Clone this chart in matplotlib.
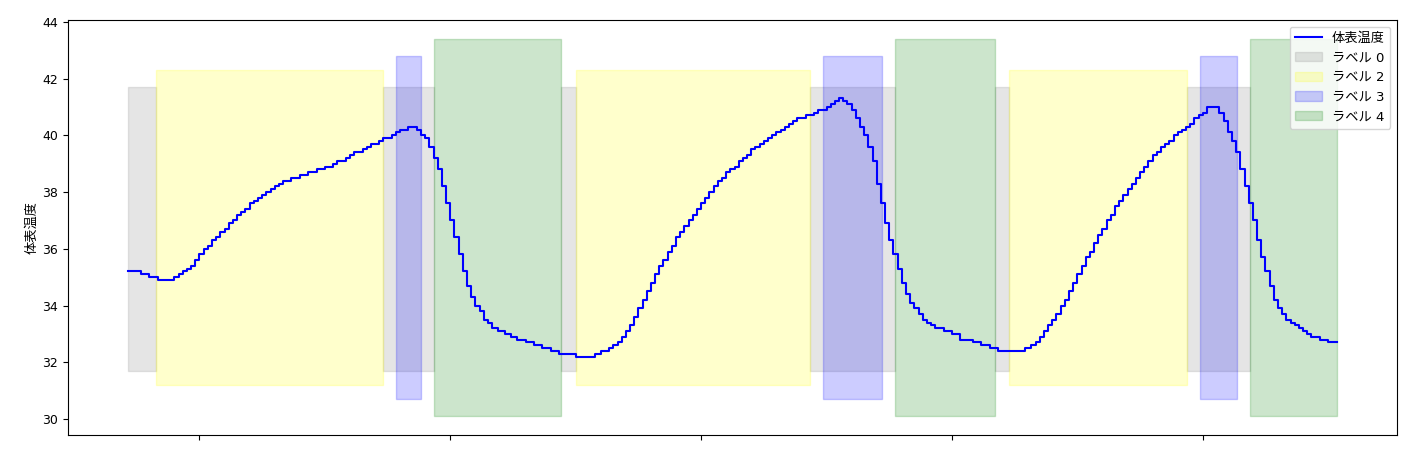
import matplotlib
matplotlib.use("Agg")
import matplotlib.pyplot as plt
from matplotlib.ticker import MultipleLocator, NullFormatter

plt.rcParams['font.family'] = ['DejaVu Sans', 'Noto Sans CJK JP']

# time (minutes) and body surface temperature
t = [43, 46, 48, 50, 54, 55, 56, 57, 58, 59, 60, 61, 62, 63, 64, 65, 66, 67, 68,
     69, 70, 71, 72, 73, 74, 75, 76, 77, 78, 79, 80, 82, 84, 86, 88, 90, 92, 93,
     95, 96, 97, 99, 100, 101, 103, 104, 106, 107, 108, 110, 112, 113, 114, 115,
     116, 117, 118, 119, 120, 121, 122, 123, 124, 125, 126, 127, 128, 129, 130,
     131.5, 133, 134.5, 136, 138, 140, 142, 144, 146, 150, 154.5, 156, 158, 159,
     160, 161, 162, 163, 164, 165, 166, 167, 168, 169, 170, 171, 172, 173, 174,
     175, 176, 177, 178, 179, 180, 181, 182, 183, 184, 185, 186, 187, 188, 189,
     190, 191, 192, 193, 194, 195, 196, 197, 198, 199, 200, 201, 202, 203, 205,
     207, 208, 210, 211, 212, 213, 214, 215, 216, 217, 218, 219, 220, 221, 222,
     223, 224, 225, 226, 227, 228, 229, 230, 231, 232, 233, 234, 235, 236, 238,
     240, 242, 245, 247, 249, 251, 257.5, 259, 260, 261, 262, 263, 264, 265, 266,
     267, 268, 269, 270, 271, 272, 273, 274, 275, 276, 277, 278, 279, 280, 281,
     282, 283, 284, 285, 286, 287, 288, 289, 290, 291, 292, 293, 294, 295, 296,
     297, 298, 299, 300, 301, 304, 305, 306, 307, 308, 309, 310, 311, 312, 313,
     314, 315, 316, 317, 318, 319, 320, 321, 322, 323, 324, 325, 326, 328, 330,
     332]
temp = [35.2, 35.1, 35.0, 34.9, 35.0, 35.1, 35.2, 35.3, 35.4, 35.6, 35.8, 36.0,
        36.1, 36.3, 36.4, 36.6, 36.7, 36.9, 37.0, 37.2, 37.3, 37.4, 37.6, 37.7,
        37.8, 37.9, 38.0, 38.1, 38.2, 38.3, 38.4, 38.5, 38.6, 38.7, 38.8, 38.9,
        39.0, 39.1, 39.2, 39.3, 39.4, 39.5, 39.6, 39.7, 39.8, 39.9, 40.0, 40.1,
        40.2, 40.3, 40.2, 40.0, 39.9, 39.6, 39.2, 38.8, 38.2, 37.6, 37.0, 36.4,
        35.8, 35.2, 34.7, 34.3, 34.0, 33.8, 33.5, 33.4, 33.2, 33.1, 33.0, 32.9,
        32.8, 32.7, 32.6, 32.5, 32.4, 32.3, 32.2, 32.3, 32.4, 32.5, 32.6, 32.7,
        32.9, 33.1, 33.3, 33.6, 33.9, 34.2, 34.5, 34.8, 35.1, 35.4, 35.6, 35.9,
        36.1, 36.4, 36.6, 36.8, 37.0, 37.2, 37.4, 37.6, 37.8, 38.0, 38.2, 38.4,
        38.5, 38.7, 38.8, 38.9, 39.1, 39.2, 39.3, 39.5, 39.6, 39.7, 39.8, 39.9,
        40.0, 40.1, 40.2, 40.3, 40.4, 40.5, 40.6, 40.7, 40.8, 40.9, 41.0, 41.1,
        41.2, 41.3, 41.2, 41.1, 40.9, 40.6, 40.3, 40.0, 39.6, 39.1, 38.3, 37.6,
        36.9, 36.3, 35.8, 35.3, 34.8, 34.4, 34.1, 33.9, 33.7, 33.5, 33.4, 33.3,
        33.2, 33.1, 33.0, 32.8, 32.7, 32.6, 32.5, 32.4, 32.5, 32.6, 32.7, 32.9,
        33.1, 33.3, 33.5, 33.7, 34.0, 34.2, 34.5, 34.8, 35.1, 35.4, 35.7, 35.9,
        36.2, 36.5, 36.7, 37.0, 37.2, 37.5, 37.7, 37.9, 38.1, 38.3, 38.5, 38.7,
        38.9, 39.1, 39.3, 39.4, 39.6, 39.7, 39.8, 40.0, 40.1, 40.2, 40.3, 40.4,
        40.6, 40.7, 40.8, 41.0, 40.8, 40.5, 40.1, 39.8, 39.4, 38.8, 38.2, 37.6,
        37.0, 36.3, 35.7, 35.2, 34.7, 34.2, 33.9, 33.7, 33.5, 33.4, 33.3, 33.2,
        33.1, 33.0, 32.9, 32.8, 32.7, 32.7]

# label segments: (start, end) in minutes, with band extent per label
label_names = ["ラベル 0", "ラベル 2", "ラベル 3", "ラベル 4"]
label_colors = ["gray", "yellow", "blue", "green"]
label_spans = [
    [(43, 49.7), (103.8, 116), (146.6, 150), (206, 226.3), (250.2, 253.6), (296.2, 311.3)],
    [(49.7, 103.8), (150, 206), (253.6, 296.2)],
    [(106.9, 112.9), (209.1, 223.2), (299.4, 308.3)],
    [(116, 146.6), (226.3, 250.2), (311.3, 332)],
]
band_low = [31.7, 31.2, 30.7, 30.1]
band_high = [41.7, 42.3, 42.8, 43.4]

fig, ax = plt.subplots(figsize=(14.02, 4.5), dpi=100)
fig.subplots_adjust(left=0.0485, right=0.9964, top=0.9556, bottom=0.0333)

ax.plot(t, temp, color="blue", lw=1.5, drawstyle="steps-post", label="体表温度",
        zorder=5)
for name, col, spans, lo, hi in zip(label_names, label_colors, label_spans,
                                    band_low, band_high):
    for i, (a, b) in enumerate(spans):
        ax.fill_between([a, b], lo, hi, color=col, alpha=0.2,
                        label=name if i == 0 else None)

ax.set_ylabel("体表温度", fontsize=9.5, labelpad=2.5)
ax.xaxis.set_major_locator(MultipleLocator(60))
ax.xaxis.set_major_formatter(NullFormatter())
ax.tick_params(labelsize=9)
ax.legend(loc="upper right", fontsize=9.5)

fig.savefig("out.png", dpi=100)
